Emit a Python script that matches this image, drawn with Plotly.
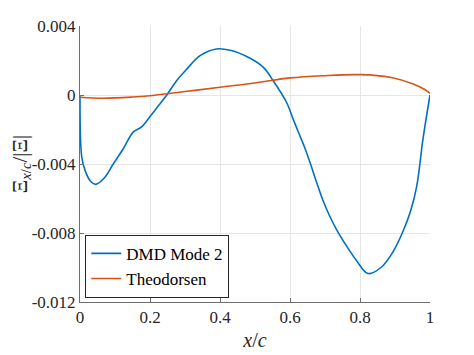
import plotly.graph_objects as go

# DMD Mode 2
dmd_x = [0.0, 0.005, 0.015, 0.03, 0.045, 0.07, 0.095, 0.124, 0.152, 0.176, 0.2, 0.225, 0.248,
         0.276, 0.305, 0.343, 0.39, 0.429, 0.486, 0.524, 0.552, 0.59, 0.609, 0.625, 0.643, 0.657,
         0.675, 0.694, 0.713, 0.733, 0.76, 0.79, 0.823, 0.86, 0.894, 0.923, 0.945, 0.962, 0.98, 1.0]
dmd_y = [0.0, -0.0036, -0.0044, -0.0050, -0.00518, -0.0048, -0.0040, -0.0031, -0.00215, -0.00185,
         -0.00125, -0.0006, 0.0,
         0.00083, 0.0015, 0.00228, 0.00267, 0.00259, 0.00213, 0.0016, 0.00083, -0.00042, -0.0014,
         -0.0022, -0.0031, -0.0039, -0.0050, -0.0061, -0.0070, -0.0078, -0.0087, -0.0096,
         -0.01035, -0.0100, -0.0091, -0.0079, -0.0067, -0.0053, -0.00255, 0.0]

# Theodorsen
theo_x = [0.0, 0.067, 0.15, 0.2, 0.3, 0.4, 0.5, 0.6, 0.695, 0.8, 0.886, 0.952, 0.985, 1.0]
theo_y = [-0.00013, -0.00019, -0.00012, -0.00004, 0.0002, 0.00045, 0.0007, 0.00099, 0.00112,
          0.00118, 0.00103, 0.00064, 0.00032, 0.0001]

x_ticks = [0, 0.2, 0.4, 0.6, 0.8, 1]
x_tick_text = ["0", "0.2", "0.4", "0.6", "0.8", "1"]
y_ticks = [0.004, 0, -0.004, -0.008, -0.012]
y_tick_text = ["0.004", "0", "-0.004", "-0.008", "-0.012"]

FONT = "serif"

fig = go.Figure()
fig.add_trace(go.Scatter(x=dmd_x, y=dmd_y, mode="lines", name="DMD Mode 2",
                         line=dict(color="#0072BD", width=1.6, shape="spline", smoothing=1.0)))
fig.add_trace(go.Scatter(x=theo_x, y=theo_y, mode="lines", name="Theodorsen",
                         line=dict(color="#D95319", width=1.6, shape="spline", smoothing=1.0)))

axis_common = dict(showgrid=True, gridcolor="#e6e6e6", gridwidth=1, zeroline=False,
                   showline=True, linecolor="#6e6e6e", linewidth=1, ticks="inside",
                   ticklen=4, tickcolor="#6e6e6e", mirror=False, automargin=False,
                   tickfont=dict(family=FONT, size=17, color="#262626"))

fig.update_xaxes(range=[0, 1], tickvals=x_ticks, ticktext=x_tick_text,
                 title=dict(text="<i>x</i>/<i>c</i>", font=dict(family=FONT, size=20, color="#262626"),
                            standoff=6),
                 **axis_common)
fig.update_yaxes(range=[-0.012, 0.004], tickvals=y_ticks, ticktext=y_tick_text,
                 title=dict(text="Ξ<sub><i>x</i>/<i>c</i></sub>/|Ξ|",
                            font=dict(family=FONT, size=21, color="#262626"), standoff=6),
                 **axis_common)

fig.update_layout(
    width=474, height=355,
    margin=dict(l=72, r=52, t=18, b=61),
    font=dict(family=FONT),
    plot_bgcolor="white", paper_bgcolor="white",
    showlegend=True,
    legend=dict(x=0.015, y=0.015, xanchor="left", yanchor="bottom",
                bgcolor="white", bordercolor="#262626", borderwidth=1,
                font=dict(family=FONT, size=17, color="#000000"),
                tracegroupgap=0, itemwidth=30),
)

fig.write_html("out.html")
